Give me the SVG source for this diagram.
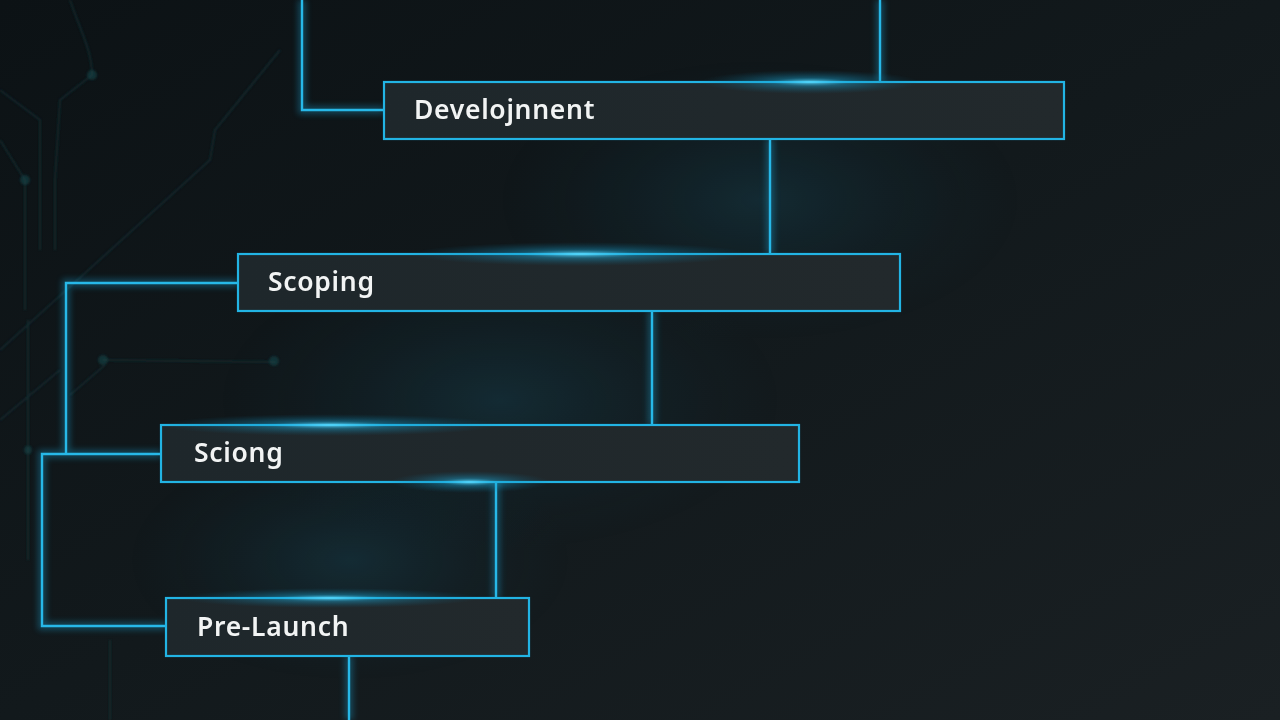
<svg xmlns="http://www.w3.org/2000/svg" width="1280" height="720" viewBox="0 0 1280 720">
<defs>
<linearGradient id="bg" x1="0" y1="0" x2="1" y2="1">
<stop offset="0" stop-color="#0c1215"/>
<stop offset="0.5" stop-color="#12191c"/>
<stop offset="1" stop-color="#1a2023"/>
</linearGradient>
<linearGradient id="boxfill" x1="0" y1="0" x2="1" y2="0">
<stop offset="0" stop-color="#1e272b"/>
<stop offset="1" stop-color="#22292c"/>
</linearGradient>
<radialGradient id="glow">
<stop offset="0" stop-color="#5fdcff" stop-opacity="0.9"/>
<stop offset="0.35" stop-color="#1aa8d8" stop-opacity="0.4"/>
<stop offset="1" stop-color="#0a6c90" stop-opacity="0"/>
</radialGradient>
<radialGradient id="haze">
<stop offset="0" stop-color="#1d7fa0" stop-opacity="0.18"/>
<stop offset="1" stop-color="#0a3d50" stop-opacity="0"/>
</radialGradient>
<filter id="blur" x="-20%" y="-200%" width="140%" height="500%">
<feGaussianBlur stdDeviation="3"/>
</filter>
<filter id="soft" x="-10%" y="-10%" width="120%" height="120%">
<feGaussianBlur stdDeviation="1.2"/>
</filter>
<style>
.box{fill:url(#boxfill);stroke:#22b4e4;stroke-width:2.2}
.lbl{font-family:"Noto Sans","Open Sans",sans-serif;font-weight:600;font-size:26.5px;fill:#f2f4f4;letter-spacing:0.7px}
.wire{fill:none;stroke:#27b8e8;stroke-width:2.4}
.wglow{fill:none;stroke:#1fa6d6;stroke-width:8;opacity:0.35}
.circ{fill:none;stroke:#143439;stroke-width:2;opacity:0.6}
.dot{fill:#17444a;opacity:0.6}
</style>
</defs>
<rect width="1280" height="720" fill="url(#bg)"/>
<g id="background-circuit" filter="url(#soft)">
<path class="circ" d="M70 0 C80 30 92 50 92 75 L60 100 L55 180 L55 250"/>
<path class="circ" d="M0 90 L40 120 L40 250"/>
<path class="circ" d="M0 140 L25 180 L25 310"/>
<path class="circ" d="M280 50 L215 130 L210 160 L0 350"/>
<path class="circ" d="M0 420 L60 370"/>
<path class="circ" d="M103 360 L275 362"/>
<path class="circ" d="M105 365 L70 395"/>
<path class="circ" d="M28 320 L28 560"/>
<path class="circ" d="M110 640 L110 720"/>
<circle class="dot" cx="92" cy="75" r="5"/>
<circle class="dot" cx="25" cy="180" r="5"/>
<circle class="dot" cx="103" cy="360" r="5"/>
<circle class="dot" cx="274" cy="361" r="5"/>
<circle class="dot" cx="28" cy="450" r="4"/>
</g>
<g id="haze">
<ellipse cx="760" cy="200" rx="260" ry="140" fill="url(#haze)"/>
<ellipse cx="500" cy="400" rx="280" ry="150" fill="url(#haze)"/>
<ellipse cx="350" cy="560" rx="220" ry="120" fill="url(#haze)"/>
</g>
<g id="connectors">
<path class="wglow" filter="url(#blur)" d="M880 0 V82 M302 0 V110 H384 M770 139 V254 M238 283 H66 V453 M161 454 H42 V626 H166 M652 311 V425 M496 482 V598 M349 656 V720"/>
<path class="wire" d="M880 0 V82"/>
<path class="wire" d="M302 0 V110 H384"/>
<path class="wire" d="M770 139 V254"/>
<path class="wire" d="M238 283 H66 V453"/>
<path class="wire" d="M161 454 H42 V626 H166"/>
<path class="wire" d="M652 311 V425"/>
<path class="wire" d="M496 482 V598"/>
<path class="wire" d="M349 656 V720"/>
</g>
<g id="node-development">
<rect class="box" x="384" y="82" width="680" height="57"/>
<text class="lbl" x="414" y="119">Develojnnent</text>
</g>
<g id="node-scoping">
<rect class="box" x="238" y="254" width="662" height="57"/>
<text class="lbl" x="268" y="291">Scoping</text>
</g>
<g id="node-sciong">
<rect class="box" x="161" y="425" width="638" height="57"/>
<text class="lbl" x="194" y="462">Sciong</text>
</g>
<g id="node-prelaunch">
<rect class="box" x="166" y="598" width="363" height="58"/>
<text class="lbl" x="197" y="636">Pre-Launch</text>
</g>
<g id="edge-glows">
<ellipse cx="810" cy="82" rx="110" ry="12" fill="url(#glow)"/>
<ellipse cx="580" cy="254" rx="170" ry="12" fill="url(#glow)"/>
<ellipse cx="330" cy="425" rx="170" ry="11" fill="url(#glow)"/>
<ellipse cx="470" cy="482" rx="80" ry="11" fill="url(#glow)"/>
<ellipse cx="330" cy="598" rx="150" ry="10" fill="url(#glow)"/>
</g>
</svg>
